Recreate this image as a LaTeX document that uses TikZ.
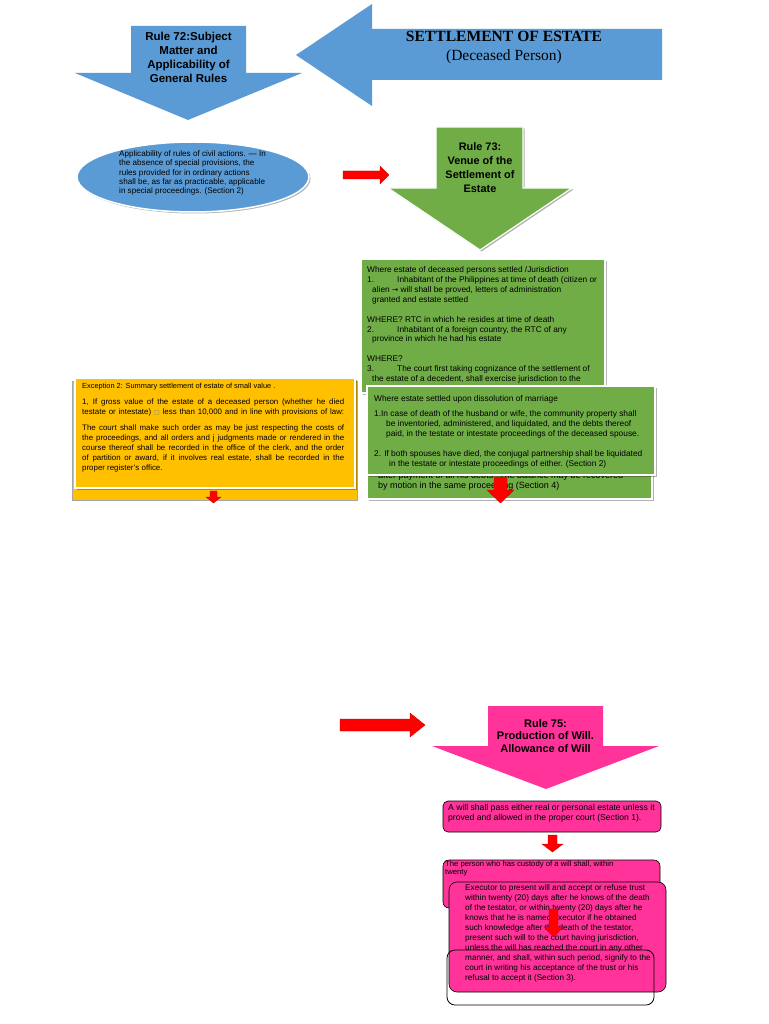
\documentclass[tikz,border=0pt]{standalone}
\usepackage{fontspec}
\setmainfont{Liberation Sans}
\newfontfamily\seriffont{Liberation Serif}
\newfontfamily\dejavu{DejaVu Sans}
\usetikzlibrary{shadows}
\definecolor{cblue}{HTML}{5B9BD5}
\definecolor{cgreen}{HTML}{70AD47}
\definecolor{cyellow}{HTML}{FFC000}
\definecolor{cpink}{HTML}{FF3399}
\definecolor{cred}{HTML}{FF0000}
\begin{document}
\begin{tikzpicture}[x=1pt,y=-1pt,
  txt/.style={anchor=north west, inner sep=0pt, align=left, text=black},
  ttl/.style={inner sep=0pt, align=center, text=black},
  redarrow/.style={fill=cred, draw=red!75!black, line width=0.3pt},
  boxshadow/.style={drop shadow={shadow xshift=1.5pt, shadow yshift=-1.5pt, opacity=0.3, fill=black}},
  whiteedge/.style={draw=white, line width=1.5pt}
]
\fill[white] (0,0) rectangle (768,1024);
\useasboundingbox (0,0) rectangle (768,1024);

% ---------- Rule 72 arrow ----------
\fill[cblue] (131,26) -- (246,26) -- (246,73) -- (302,73) -- (188,120) -- (75,73) -- (131,73) -- cycle;
\node[ttl, font=\bfseries\fontsize{11.5}{14}\selectfont] (r72) at (188.5,57) {Rule 72:Subject\\Matter and\\Applicability of\\General Rules};

% ---------- Settlement arrow ----------
\fill[cblue] (662,29) -- (662,80) -- (372,80) -- (372,106) -- (296,55) -- (372,4) -- (372,29) -- cycle;
\node[ttl, font=\seriffont\fontsize{15.5}{19}\selectfont] (set) at (504,47) {{\bfseries\fontsize{15.6}{19}\selectfont SETTLEMENT OF ESTATE}\\(Deceased Person)};

% ---------- Ellipse ----------
\path[fill=cblue, whiteedge, boxshadow] (193,177) ellipse [x radius=116, y radius=35];
\node[txt, font=\fontsize{8.1}{9.3}\selectfont] (ell) at (119,150.6) {Applicability of rules of civil actions. --- In\\the absence of special provisions, the\\rules provided for in ordinary actions\\shall be, as far as practicable, applicable\\in special proceedings. (Section 2)};

% ---------- red arrow to Rule 73 ----------
\fill[redarrow] (343,171) -- (380,171) -- (380,166) -- (389,175) -- (380,184) -- (380,179) -- (343,179) -- cycle;

% ---------- Rule 73 arrow ----------
\path[fill=cgreen, draw=white, line width=1.2pt, boxshadow] (436,127) -- (523,127) -- (523,188) -- (572,188) -- (480,250) -- (388,188) -- (436,188) -- cycle;
\node[ttl, font=\bfseries\fontsize{10.9}{14}\selectfont] (r73) at (480,168) {Rule 73:\\Venue of the\\Settlement of\\Estate};

% ---------- Yellow boxes ----------
\path[fill=cyellow, draw=gray!70, line width=0.6pt] (72,381) rectangle (357,500);
\path[fill=cyellow, whiteedge, boxshadow] (75,378) rectangle (355,488);
\node[txt, font=\fontsize{7.9}{10}\selectfont] (exc) at (82,382.6) {{\fontsize{7.4}{10}\selectfont Exception 2: Summary settlement of estate of small value .}\\[6.5pt]
\makebox[262pt][s]{1, If gross value of the estate of a deceased person (whether he died}\\
\makebox[262pt][s]{testate or intestate) {\dejavu\color{gray}\fontsize{6}{8}\selectfont □} less than 10,000 and in line with provisions of law:}\\[6pt]
\makebox[262pt][s]{The court shall make such order as may be just respecting the costs of}\\
\makebox[262pt][s]{the proceedings, and all orders and j judgments made or rendered in the}\\
\makebox[262pt][s]{course thereof shall be recorded in the office of the clerk, and the order}\\
\makebox[262pt][s]{of partition or award, if it involves real estate, shall be recorded in the}\\
proper register's office.};
\fill[redarrow] (210,491) -- (217,491) -- (217,497) -- (221,497) -- (213.5,503) -- (206,497) -- (210,497) -- cycle;

% ---------- Green boxes ----------
\path[fill=cgreen, whiteedge, boxshadow] (361,259) rectangle (605,393);
\node[txt, font=\fontsize{8.3}{9.9}\selectfont] (where) at (367,266.4) {Where estate of deceased persons settled /Jurisdiction\\
\makebox[30pt][l]{1.}Inhabitant of the Philippines at time of death (citizen or\\
\hspace*{5pt}alien {\dejavu\fontsize{7.5}{9}\selectfont →} will shall be proved, letters of administration\\
\hspace*{5pt}granted and estate settled\\[9.9pt]
WHERE? RTC in which he resides at time of death\\
\makebox[30pt][l]{2.}Inhabitant of a foreign country, the RTC of any\\
\hspace*{5pt}province in which he had his estate\\[9.9pt]
WHERE?\\
\makebox[30pt][l]{3.}The court first taking cognizance of the settlement of\\
\hspace*{5pt}the estate of a decedent, shall exercise jurisdiction to the};

\path[fill=cgreen, whiteedge, boxshadow] (367,392) rectangle (652,499);
\node[txt, font=\fontsize{9}{10}\selectfont] (sec4) at (378,472) {after payment of all his debts. The balance may be recovered\\by motion in the same proceeding (Section 4)};

\path[fill=cgreen, whiteedge, boxshadow] (367,386) rectangle (655,475);
\node[txt, font=\fontsize{8.35}{10}\selectfont] (marr) at (374,395.4) {Where estate settled upon dissolution of marriage\\[5pt]
1.In case of death of the husband or wife, the community property shall\\
\hspace*{12pt}be inventoried, administered, and liquidated, and the debts thereof\\
\hspace*{12pt}paid, in the testate or intestate proceedings of the deceased spouse.\\[10pt]
2. If both spouses have died, the conjugal partnership shall be liquidated\\
\hspace*{15pt}in the testate or intestate proceedings of either. (Section 2)};
\fill[redarrow] (494,477) -- (507,477) -- (507,490) -- (514,490) -- (500.5,503) -- (487,490) -- (494,490) -- cycle;

% ---------- Rule 75 ----------
\fill[redarrow] (340,719) -- (410,719) -- (410,713) -- (425,725) -- (410,737) -- (410,731) -- (340,731) -- cycle;
\fill[cpink] (488,706) -- (603,706) -- (603,746) -- (659,746) -- (546,789) -- (432,746) -- (488,746) -- cycle;
\node[ttl, font=\bfseries\fontsize{11}{12.5}\selectfont] (r75) at (545.5,736) {Rule 75:\\Production of Will.\\Allowance of Will};

\path[fill=cpink, draw=black, line width=0.6pt, rounded corners=5pt] (443,801) rectangle (661,832);
\node[txt, font=\fontsize{8.6}{10}\selectfont] (p1) at (448,804.3) {A will shall pass either real or personal estate unless it\\proved and allowed in the proper court (Section 1).};
\fill[redarrow] (548,835) -- (557,835) -- (557,844) -- (563,844) -- (552.5,852) -- (542,844) -- (548,844) -- cycle;

\path[fill=cpink, draw=black, line width=0.6pt, rounded corners=6pt] (443,860) rectangle (660,908);
\node[txt, font=\fontsize{7.7}{8}\selectfont] (p2) at (445,860.5) {The person who has custody of a will shall, within\\twenty};

\path[fill=cpink, draw=black, line width=0.6pt, rounded corners=8pt] (449,882) rectangle (666,992);
\node[txt, font=\fontsize{8.2}{10}\selectfont] (p3) at (465,884.5) {Executor to present will and accept or refuse trust\\
within twenty (20) days after he knows of the death\\
of the testator, or within twenty (20) days after he\\
knows that he is named executor if he obtained\\
such knowledge after the death of the testator,\\
present such will to the court having jurisdiction,\\
unless the will has reached the court in any other\\
manner, and shall, within such period, signify to the\\
court in writing his acceptance of the trust or his\\
refusal to accept it (Section 3).};
\fill[redarrow] (549,909) -- (558,909) -- (558,927) -- (563,927) -- (553.5,937) -- (544,927) -- (549,927) -- cycle;
\draw[black, line width=0.8pt, rounded corners=8pt] (447,950) rectangle (654,1005);
\end{tikzpicture}
\end{document}
